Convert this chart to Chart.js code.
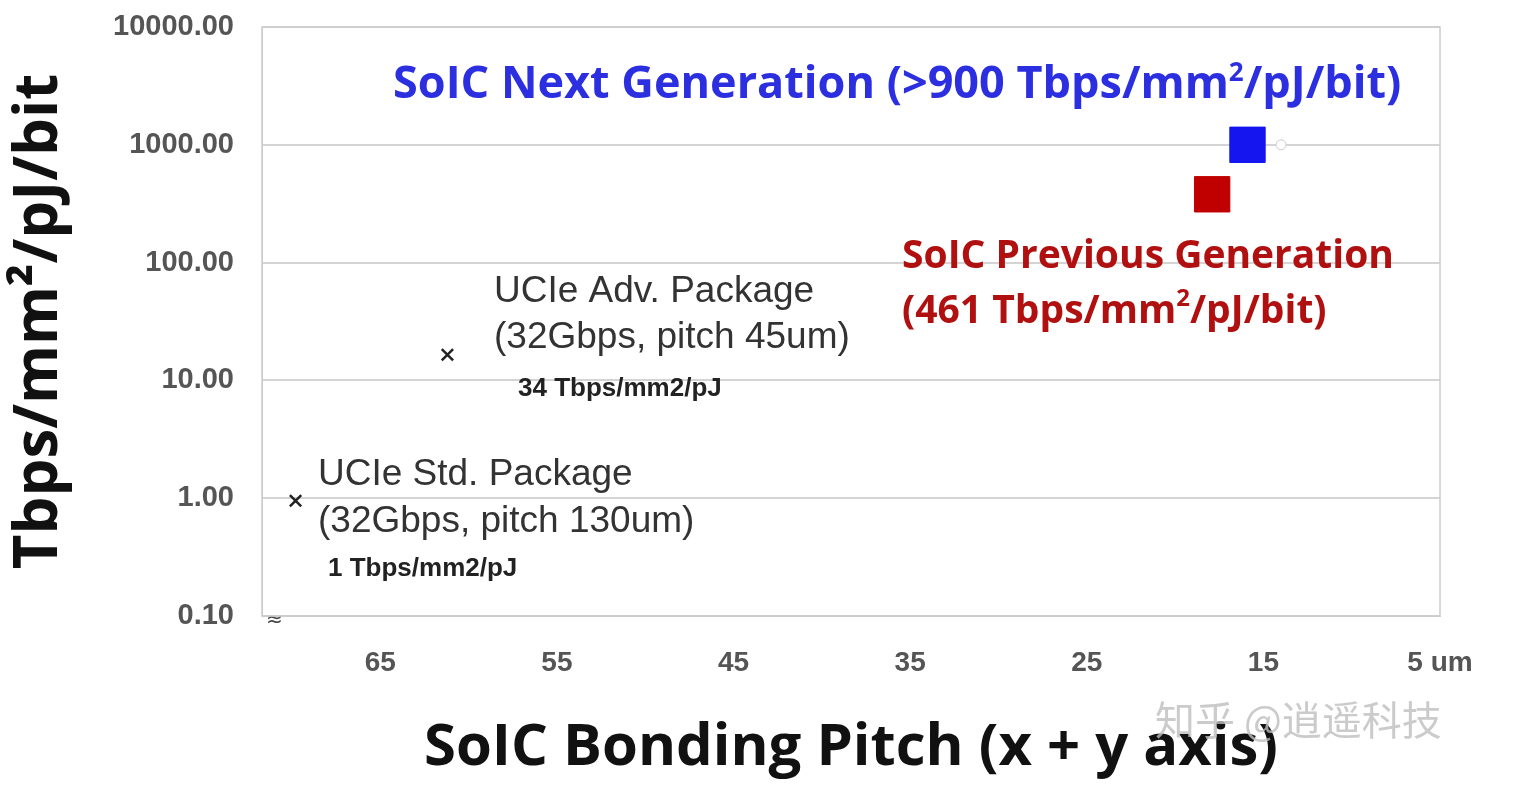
<!DOCTYPE html>
<html><head><meta charset="utf-8">
<script src="https://cdn.jsdelivr.net/npm/chart.js@4/dist/chart.umd.min.js"></script>
<style>html,body{margin:0;padding:0;background:#fff}#wrap{width:1521px;height:787px}</style>
</head><body><div id="wrap"><canvas id="c"></canvas></div>
<script>
// data
const xTicks = [65, 55, 45, 35, 25, 15, 5];
const yTicks = [0.1, 1, 10, 100, 1000, 10000];
const uciePitch = [69.8, 61.2];
const ucieValue = [0.95, 16.5];
const nextPitch = [15.9];
const nextValue = [1000];
const prevPitch = [17.9];
const prevValue = [380];
const markerPitch = [14];
const markerValue = [1000];

const pts = (xs, ys) => xs.map((x, i) => ({x: x, y: ys[i]}));

const labels = {
  id: 'labels',
  afterDraw(chart) {
    const ctx = chart.ctx;
    ctx.save();
    ctx.textBaseline = 'alphabetic';
    const t = (s, x, y, font, color) => { ctx.font = font; ctx.fillStyle = color; ctx.fillText(s, x, y); };
    const sup = (parts, x, y, font, sfont, color) => {
      parts.forEach(p => {
        ctx.font = p[1] ? sfont : font; ctx.fillStyle = color;
        ctx.fillText(p[0], x, p[1] ? y - 17 : y);
        x += ctx.measureText(p[0]).width;
      });
    };
    sup([['SoIC Next Generation (>900 Tbps/mm', 0], ['2', 1], ['/pJ/bit)', 0]], 393, 98, 'bold 45px "Open Sans"', 'bold 26px "Open Sans"', '#2b2fe0');
    t('SoIC Previous Generation', 902, 268, 'bold 39px "Open Sans"', '#b01010');
    sup([['(461 Tbps/mm', 0], ['2', 1], ['/pJ/bit)', 0]], 902, 323, 'bold 39px "Open Sans"', 'bold 24px "Open Sans"', '#b01010');
    const nf = '37px "Liberation Sans"', nc = '#333';
    t('UCIe Adv. Package', 494, 302, nf, nc);
    t('(32Gbps, pitch 45um)', 494, 348, nf, nc);
    t('34 Tbps/mm2/pJ', 518, 396, 'bold 26px "Liberation Sans"', '#222');
    t('UCIe Std. Package', 318, 485, nf, nc);
    t('(32Gbps, pitch 130um)', 318, 532, nf, nc);
    t('1 Tbps/mm2/pJ', 328, 576, 'bold 26px "Liberation Sans"', '#222');
    t('≈', 266, 626, '20px "DejaVu Sans"', '#444');
    t('知乎 @逍遥科技', 1155, 735, '40px "Noto Sans CJK SC"', 'rgba(190,190,190,0.8)');
    ctx.restore();
  }
};

new Chart(document.getElementById('c'), {
  type: 'scatter',
  data: {
    datasets: [
      {data: pts(uciePitch, ucieValue), pointStyle: 'crossRot', radius: 8, borderColor: '#222', borderWidth: 2.5},
      {data: pts(nextPitch, nextValue), pointStyle: 'rect', radius: 25, backgroundColor: '#1515f0', borderColor: '#1515f0'},
      {data: pts(prevPitch, prevValue), pointStyle: 'rect', radius: 25, backgroundColor: '#c00000', borderColor: '#c00000'},
      {data: pts(markerPitch, markerValue), pointStyle: 'circle', radius: 5, backgroundColor: '#fff', borderColor: '#ccc', borderWidth: 1}
    ]
  },
  options: {
    responsive: true, maintainAspectRatio: false, animation: false,
    layout: {padding: {top: 27, right: 81, left: 0, bottom: 0}},
    plugins: {legend: {display: false}, tooltip: {enabled: false}},
    scales: {
      x: {
        type: 'linear', reverse: true, min: 5, max: 71.7,
        afterBuildTicks: s => { s.ticks = xTicks.map(v => ({value: v})); },
        afterFit: s => { s.height = 171; },
        ticks: {autoSkip: false, maxRotation: 0, padding: 22, color: '#555', font: {size: 28, weight: 'bold', family: 'Liberation Sans'},
          callback: v => v === 5 ? '5 um' : v},
        grid: {display: false},
        border: {color: '#ccc'},
        title: {display: true, text: 'SoIC Bonding Pitch (x + y axis)', color: '#111', font: {size: 58, weight: 'bold', family: 'Open Sans'}, padding: {top: 12}}
      },
      y: {
        type: 'logarithmic', min: 0.1, max: 10000,
        afterBuildTicks: s => { s.ticks = yTicks.map(v => ({value: v})); },
        afterFit: s => { s.width = 262; s.paddingTop = 0; s.paddingBottom = 0; },
        ticks: {padding: 28, color: '#555', font: {size: 29, weight: 'bold', family: 'Liberation Sans'}, callback: v => Number(v).toFixed(2)},
        grid: {color: '#d4d4d4', lineWidth: 2, drawTicks: false},
        border: {color: '#ccc'},
        title: {display: true, text: 'Tbps/mm²/pJ/bit', color: '#111', font: {size: 60, weight: 'bold', family: 'Open Sans'}, padding: {bottom: 14}}
      }
    }
  },
  plugins: [labels, {
    id: 'frame',
    afterDraw(chart) {
      const a = chart.chartArea, ctx = chart.ctx;
      ctx.save(); ctx.strokeStyle = '#ccc'; ctx.lineWidth = 1.5;
      ctx.strokeRect(a.left, a.top, a.right - a.left, a.bottom - a.top); ctx.restore();
    }
  }]
});
</script></body></html>
